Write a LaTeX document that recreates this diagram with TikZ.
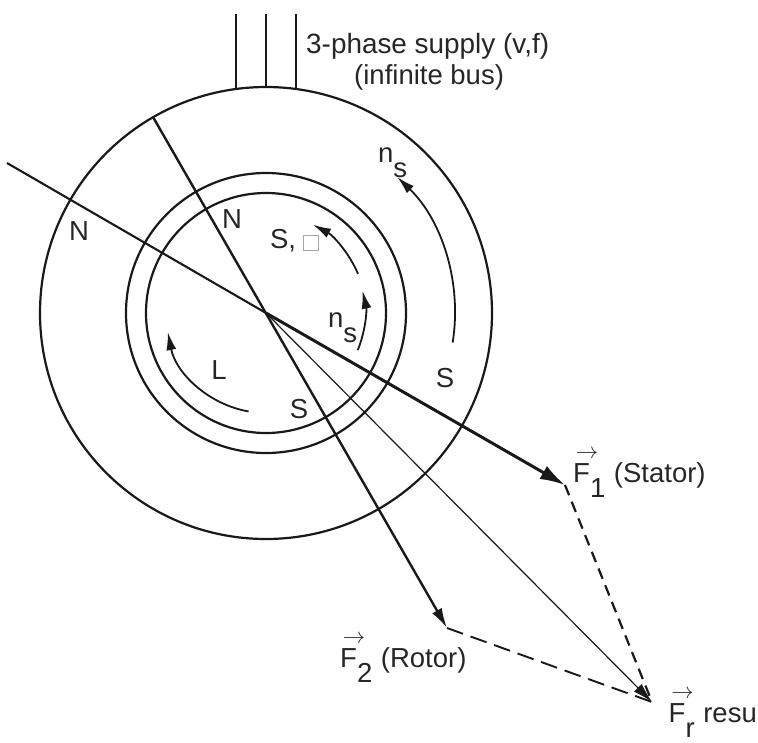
\documentclass[tikz,border=0pt]{standalone}
\usepackage{amsmath}
\usepackage{graphicx}
\usepackage{xcolor}
\usepackage{fontspec}
\setmainfont{Liberation Sans}
\usetikzlibrary{arrows.meta,calc}
\newcommand{\sizeA}{\fontsize{27.5}{32}\selectfont}
\newcommand{\sizeB}{\fontsize{27.9}{32}\selectfont}
\newcommand{\low}[1]{\raisebox{-0.55em}{#1}}
\newcommand{\fvec}[1]{\rlap{\kern0.1em\raisebox{0.87em}{\scalebox{0.9}{$\rightarrow$}}}F\low{#1}\kern1pt\relax}
\tikzset{
  txt/.style={inner sep=0pt,font=\sizeA,text=black!85},
  vectxt/.style={inner sep=0pt,font=\sizeA,text=black!85,anchor=base west},
  wall/.style={line width=2.2pt,black!90},
  spin/.style={line width=1.8pt,black!90,-{Latex[length=18pt,width=10pt]}}
}
\begin{document}
\begin{tikzpicture}[x=1pt,y=-1pt]
  \useasboundingbox (0,0) rectangle (758,742);
  \coordinate (O) at (266,313);
  \coordinate (statorend) at (7,163);
  \coordinate (rotorend) at (153,117);
  \coordinate (Fone) at (565,485);
  \coordinate (Ftwo) at (447,628);
  \coordinate (Fres) at (652,702);
  % machine
  \foreach \r in {226,140,120} {
    \draw[wall] (O) circle[radius=\r];
  }
  \foreach \x/\y in {236/89,266/87,296/89} {
    \draw[wall] (\x,14) -- (\x,\y);
  }
  % field axes
  \draw[line width=2.1pt,black!90] (statorend) -- (O);
  \draw[line width=3pt,black!90,-{Latex[length=25pt,width=15pt]}] (O) -- (Fone);
  \draw[line width=2.4pt,black!90,-{Latex[length=20pt,width=11pt]}] (rotorend) -- (Ftwo);
  \draw[line width=1.2pt,black!90,-{Latex[length=20pt,width=11pt]}] (O) -- (Fres);
  \draw[line width=2.2pt,black!90,dashed,dash pattern=on 11pt off 7pt] (Fone) -- (Fres);
  \draw[line width=1.9pt,black!90,dashed,dash pattern=on 17pt off 8pt] (Ftwo) -- (Fres);
  % rotation
  \draw[spin] ($(O)+(9:189)$) arc[start angle=9,end angle=-46,radius=189];
  \draw[spin] ($(O)+(-23:100)$) arc[start angle=-23,end angle=-62,radius=100];
  \draw[spin] ($(O)+(22:99)$) arc[start angle=22,end angle=-13,radius=99];
  \draw[spin] ($(O)+(100:100)$) arc[start angle=100,end angle=169,radius=100];
  % labels
  \node[vectxt,font=\sizeB] (supply) at (306,53) {3-phase supply (v,f)};
  \node[vectxt] (bus) at (354,84) {(infinite bus)};
  \node[txt] (nout) at (79,231) {N};
  \node[txt] (nin) at (232,219) {N};
  \node[txt] (sout) at (445,378) {S};
  \node[txt] (sin) at (299,409) {S};
  \node[txt] (sdelta) at (283,241) {S,};
  \node[draw=black!35,line width=0.7pt,minimum size=15pt,inner sep=0pt] (blank) at (311,243) {};
  \node[txt] (load) at (219,370) {L};
  \node[txt,anchor=base west] (nsout) at (378,162) {n\low{s}};
  \node[txt,anchor=base west] (nsin) at (328,327) {n\low{s}};
  \node[vectxt] (lblone) at (573,482) {\fvec{1} (Stator)};
  \node[vectxt] (lbltwo) at (340,667) {\fvec{2} (Rotor)};
  \node[vectxt] (lblres) at (668.5,722) {\fvec{r} resu};
\end{tikzpicture}
\end{document}
